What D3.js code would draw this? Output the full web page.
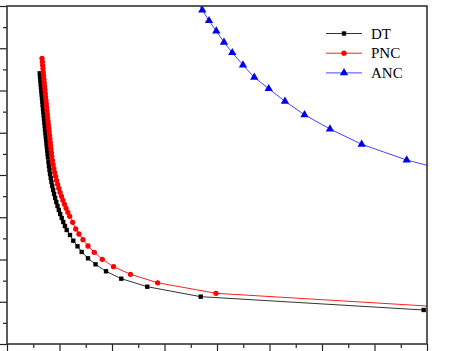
<!DOCTYPE html>
<html>
<head>
<meta charset="utf-8">
<script src="https://cdn.jsdelivr.net/npm/d3@7"></script>
<style>
  body { margin: 0; background: #fff; }
  svg { display: block; }
</style>
</head>
<body>
<div id="chart"></div>
<script>
// DT series (black squares)
const dtX = [6.23, 6.29, 6.35, 6.41, 6.47, 6.53, 6.59, 6.66, 6.72, 6.78, 6.85, 6.91, 6.98, 7.04, 7.11, 7.18, 7.24, 7.31, 7.38, 7.45, 7.52, 7.59, 7.66, 7.73, 7.80,
  7.90, 7.99, 8.09, 8.20, 8.33, 8.47, 8.62, 8.79, 8.97, 9.17, 9.39, 9.62, 9.87, 10.13, 10.42, 10.72, 11.04, 11.37,
  12.00, 12.63, 13.43, 14.23, 15.43, 16.86, 18.86, 21.77, 26.72, 36.90, 79.37];
const dtY = [64.07, 63.20, 62.37, 61.54, 60.71, 59.88, 59.05, 58.22, 57.40, 56.57, 55.74, 54.91, 54.08, 53.25, 52.43, 51.60, 50.77, 49.94, 49.11, 48.28, 47.46, 46.63, 45.80, 44.97, 44.14,
  43.08, 42.13, 41.18, 40.24, 39.29, 38.34, 37.40, 36.45, 35.50, 34.56, 33.61, 32.66, 31.72, 30.77, 29.82, 28.88, 27.93, 26.98,
  25.80, 24.45, 23.12, 21.78, 20.28, 18.86, 17.21, 15.46, 13.56, 11.20, 8.05];

// PNC series (red circles)
const pncX = [6.67, 6.73, 6.79, 6.85, 6.91, 6.97, 7.03, 7.10, 7.16, 7.23, 7.29, 7.35, 7.42, 7.49, 7.55, 7.62, 7.69, 7.75, 7.82, 7.89, 7.96, 8.03, 8.10, 8.17, 8.24, 8.31, 8.38, 8.46, 8.53,
  8.65, 8.77, 8.92, 9.08, 9.25, 9.44, 9.65, 9.87, 10.11, 10.38, 10.65, 10.95, 11.26, 11.59, 11.95, 12.51,
  13.09, 13.71, 14.48, 15.43, 16.63, 18.15, 20.29, 23.52, 28.70, 39.81, 84.95];
const pncY = [67.62, 66.79, 65.96, 65.14, 64.31, 63.48, 62.65, 61.82, 61.00, 60.17, 59.34, 58.51, 57.68, 56.85, 56.02, 55.20, 54.37, 53.54, 52.71, 51.88, 51.05, 50.22, 49.40, 48.57, 47.74, 46.91, 46.08, 45.25, 44.42,
  43.48, 42.53, 41.59, 40.64, 39.69, 38.75, 37.80, 36.85, 35.91, 34.96, 34.01, 33.07, 32.12, 31.17, 30.22, 28.80,
  27.22, 26.04, 24.69, 23.20, 21.70, 20.05, 18.30, 16.50, 14.49, 12.00, 8.62];

// ANC series (blue triangles)
const ancX = [36.00, 37.20, 38.48, 39.87, 41.33, 42.91, 44.95, 47.10, 49.85, 52.95, 56.67, 61.52, 67.56, 76.13, 89.33];
const ancY = [81.54, 79.05, 76.52, 74.08, 71.41, 68.95, 66.04, 63.12, 60.43, 57.44, 54.25, 50.89, 47.27, 43.55, 39.29];

const xMajor = [0, 10, 20, 30, 40, 50, 60, 70, 80];
const xMinor = [5, 15, 25, 35, 45, 55, 65, 75];
const yMajor = [0, 10, 20, 30, 40, 50, 60, 70, 80];
const yMinor = [5, 15, 25, 35, 45, 55, 65, 75];

const legendNames = ["DT", "PNC", "ANC"];

const width = 474, height = 351;
const margin = { top: 6, right: 47, bottom: 7, left: 7 };
const innerW = width - margin.left - margin.right;
const innerH = height - margin.top - margin.bottom;

const svg = d3.select("#chart").append("svg")
  .attr("width", width)
  .attr("height", height);

const x = d3.scaleLinear().domain([0, 80]).range([margin.left, margin.left + innerW]);
const y = d3.scaleLinear().domain([0, 80]).range([margin.top + innerH, margin.top]);

// axes (ticks only, labels are outside the picture)
function tickAxis(axis, vals, size) {
  return axis.tickValues(vals).tickSize(size).tickFormat("");
}
[[xMajor, 7], [xMinor, 4]].forEach(([vals, s]) => {
  svg.append("g")
    .attr("transform", `translate(0,${margin.top + innerH})`)
    .call(tickAxis(d3.axisBottom(x), vals, s))
    .call(g => g.select(".domain").remove())
    .selectAll("line").attr("stroke", "#222").attr("stroke-width", 1.2);
});
[[yMajor, 7], [yMinor, 4]].forEach(([vals, s]) => {
  svg.append("g")
    .attr("transform", `translate(${margin.left},0)`)
    .call(tickAxis(d3.axisLeft(y), vals, s))
    .call(g => g.select(".domain").remove())
    .selectAll("line").attr("stroke", "#222").attr("stroke-width", 1.2);
});

svg.append("clipPath").attr("id", "plot-clip")
  .append("rect")
  .attr("x", margin.left).attr("y", margin.top)
  .attr("width", innerW).attr("height", innerH);

const plot = svg.append("g").attr("clip-path", "url(#plot-clip)");

const series = [
  { name: "DT", xs: dtX, ys: dtY, line: "#333", fill: "#000", symbol: d3.symbolSquare, size: 19 },
  { name: "PNC", xs: pncX, ys: pncY, line: "#ff2020", fill: "#ff0000", symbol: d3.symbolCircle, size: 22 },
  { name: "ANC", xs: ancX, ys: ancY, line: "#4545ff", fill: "#0000ee", symbol: d3.symbolTriangle, size: 30 }
];

const line = d3.line();

series.forEach(s => {
  const pts = s.xs.map((v, i) => [x(v), y(s.ys[i])]);
  plot.append("path")
    .attr("d", line(pts))
    .attr("fill", "none")
    .attr("stroke", s.line)
    .attr("stroke-width", 1);
  plot.selectAll(null)
    .data(pts)
    .enter()
    .append("path")
    .attr("transform", d => `translate(${d[0]},${d[1]})`)
    .attr("d", d3.symbol().type(s.symbol).size(s.size))
    .attr("fill", s.fill);
});

// frame
svg.append("rect")
  .attr("x", margin.left).attr("y", margin.top)
  .attr("width", innerW).attr("height", innerH)
  .attr("fill", "none")
  .attr("stroke", "#333")
  .attr("stroke-width", 1.6);

// legend
const legend = svg.append("g");
series.forEach((s, i) => {
  const ly = 33.5 + i * 19.7;
  legend.append("line")
    .attr("x1", 326).attr("x2", 362)
    .attr("y1", ly).attr("y2", ly)
    .attr("stroke", s.line).attr("stroke-width", 1);
  legend.append("path")
    .attr("transform", `translate(344,${ly})`)
    .attr("d", d3.symbol().type(s.symbol).size(s.size))
    .attr("fill", s.fill);
  legend.append("text")
    .attr("x", 371)
    .attr("y", ly + 5)
    .attr("font-family", "'Liberation Serif', 'Times New Roman', serif")
    .attr("font-size", 15)
    .attr("fill", "#000")
    .text(legendNames[i]);
});
</script>
</body>
</html>
